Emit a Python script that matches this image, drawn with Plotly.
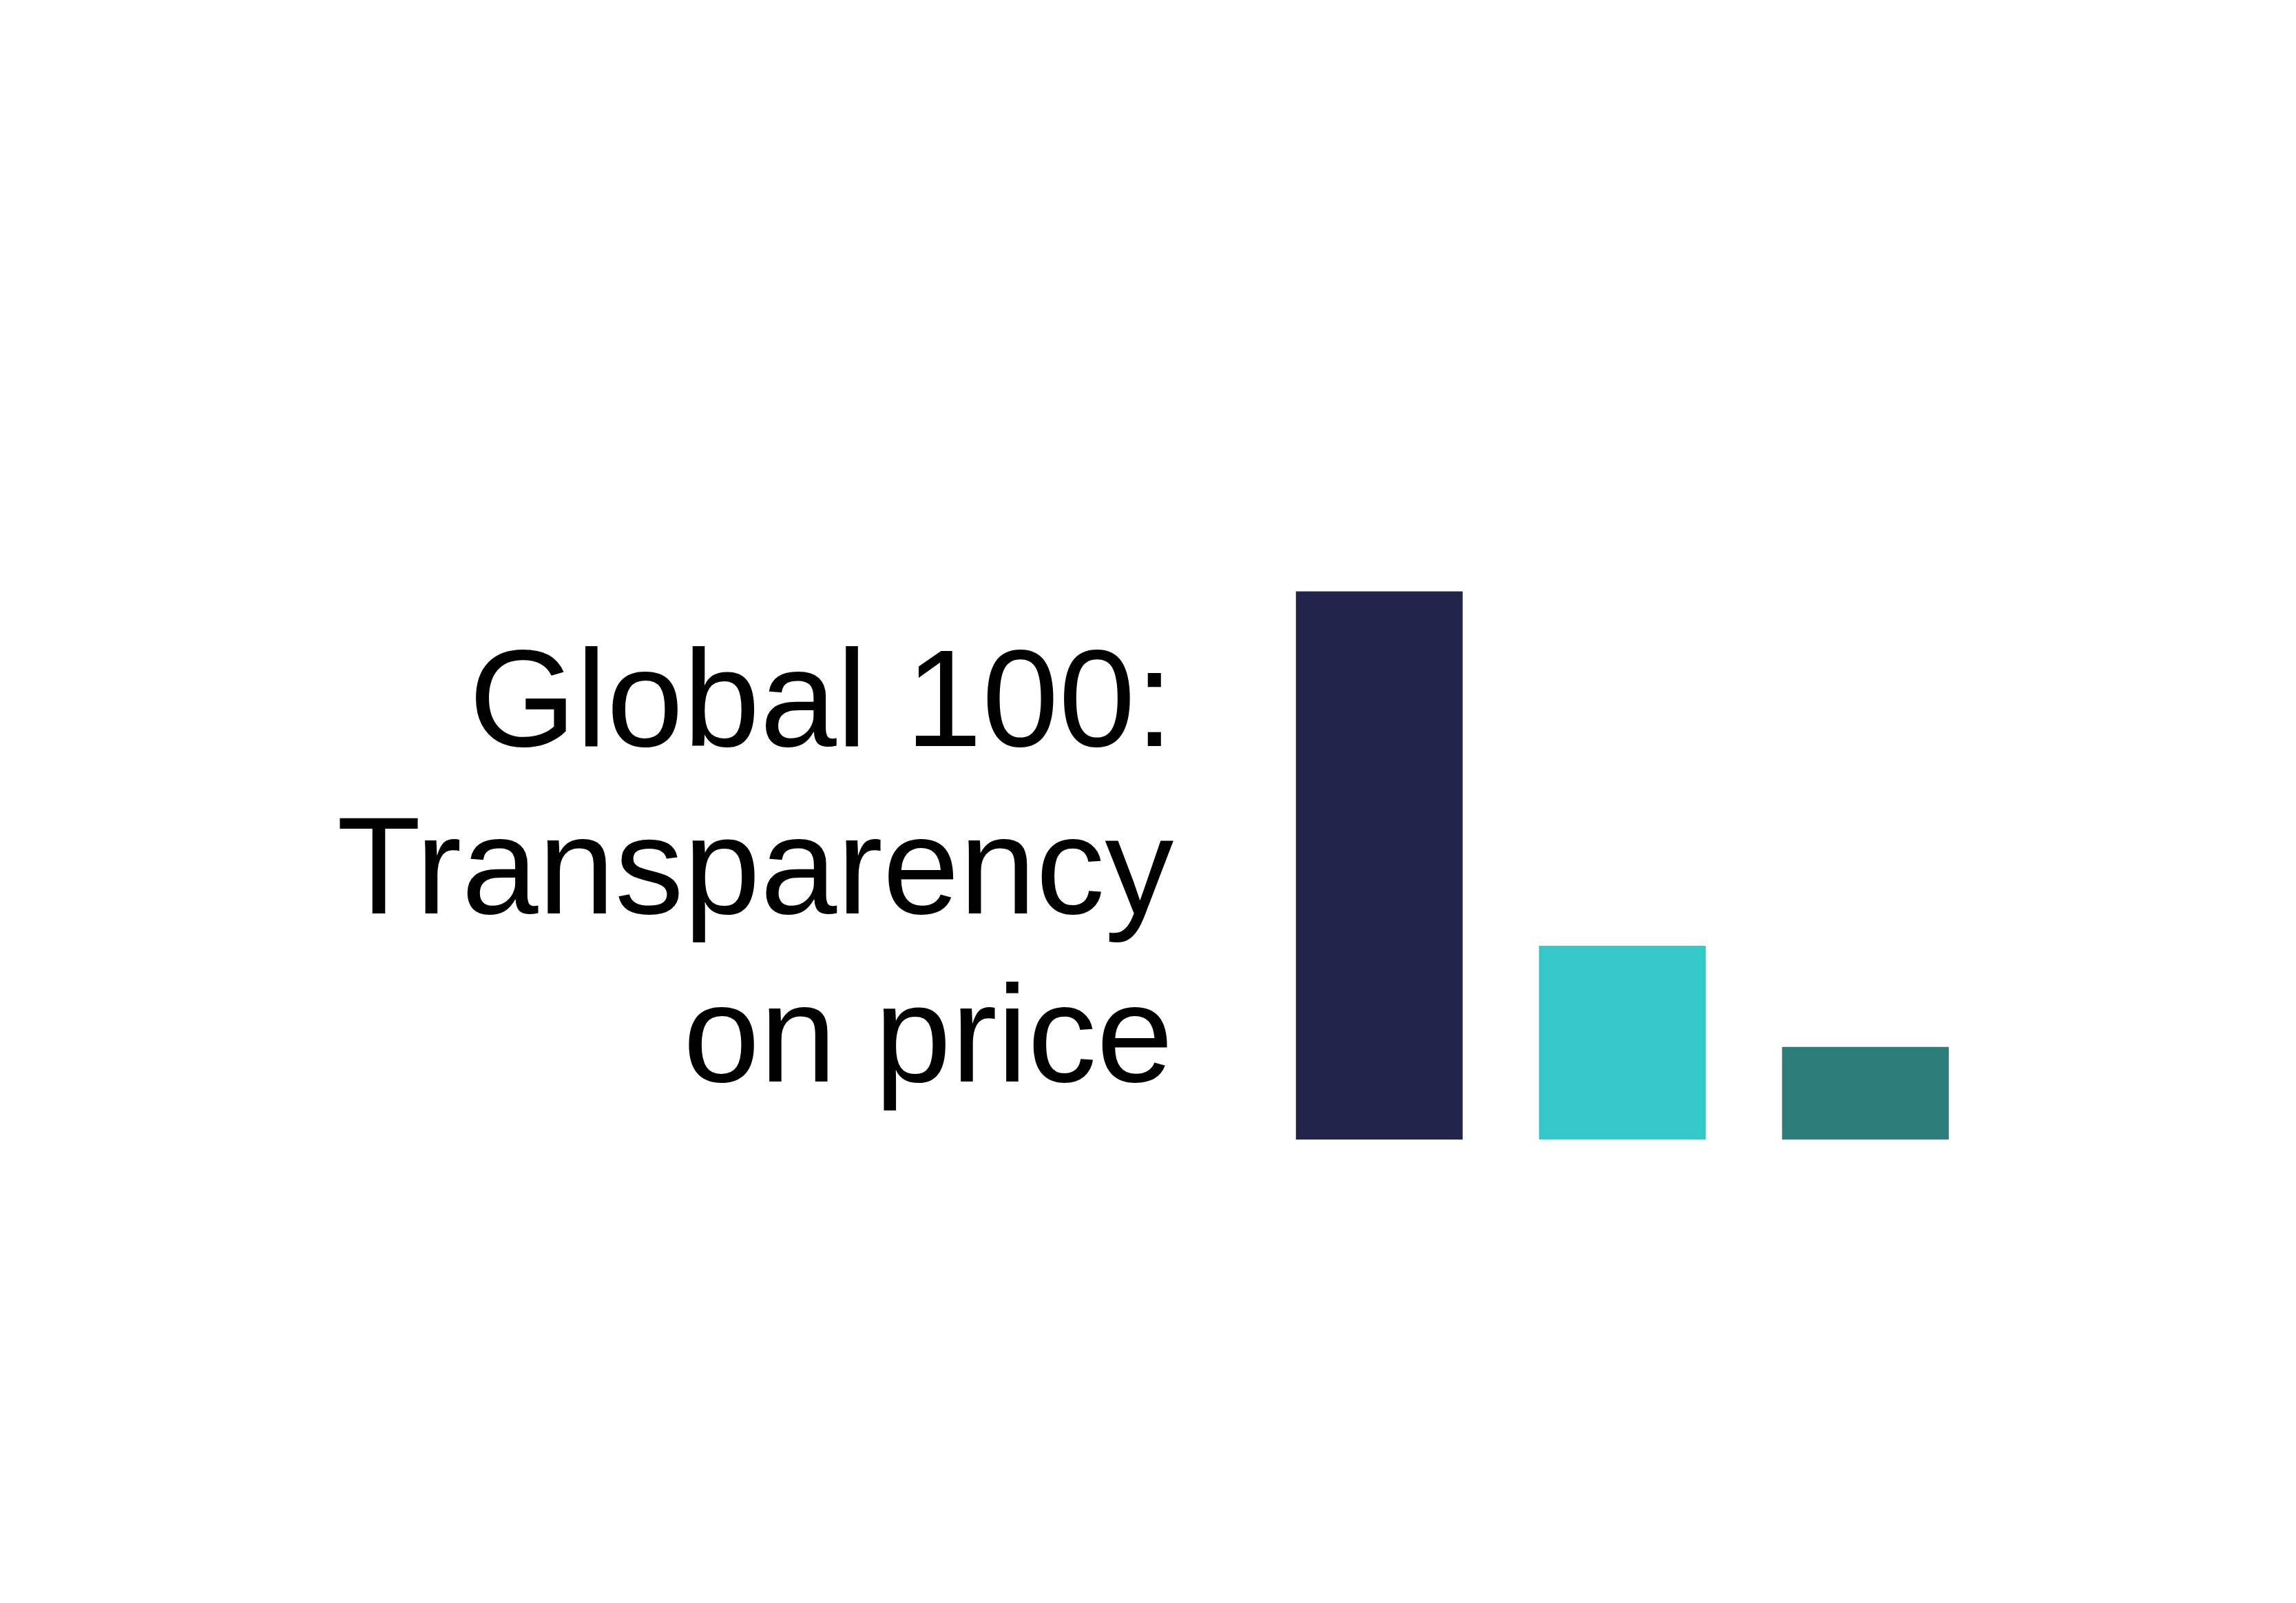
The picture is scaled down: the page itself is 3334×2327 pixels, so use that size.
import plotly.graph_objects as go

# Data (share of companies, %)
categories = ["Yes", "Partial", "No"]
values = [65, 23, 11]
colors = ["#22244A", "#34C8C8", "#2D7D7B"]

title_lines = ["Global 100:", "Transparency", "on price"]

W, H = 3334, 2327

fig = go.Figure()

fig.add_trace(go.Bar(
    x=categories,
    y=values,
    marker=dict(color=colors, line=dict(width=0)),
    hoverinfo="skip",
    showlegend=False
))

# title text, one annotation per line so the line spacing can be tight
line_y = [0.5681, 0.4633, 0.3588]
for txt, yy in zip(title_lines, line_y):
    fig.add_annotation(
        text=txt, xref="paper", yref="paper",
        x=0.5093, y=yy, xanchor="right", yanchor="middle",
        showarrow=False,
        font=dict(family="Liberation Sans, Arial, sans-serif", size=200, color="#000000")
    )

fig.update_layout(
    width=W, height=H,
    margin=dict(l=0, r=0, t=0, b=0),
    paper_bgcolor="white",
    plot_bgcolor="white",
    bargap=0.314,
    xaxis=dict(domain=[0.5454, 0.8630], visible=False),
    yaxis=dict(domain=[0.2924, 0.6608], range=[0, 70], visible=False),
)

fig.write_html("out.html")
